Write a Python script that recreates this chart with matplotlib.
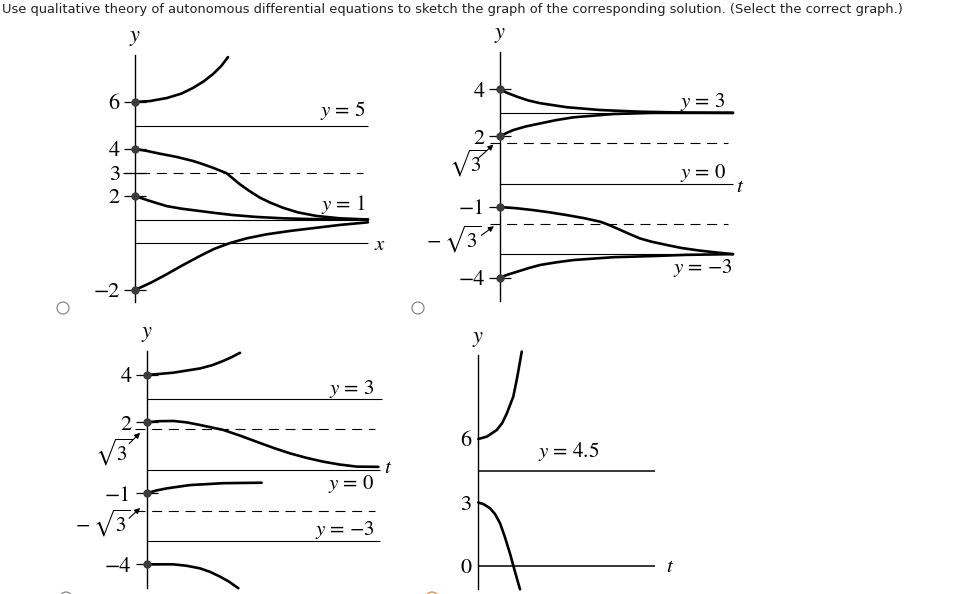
import matplotlib
matplotlib.use("Agg")
import matplotlib.pyplot as plt
from matplotlib.patches import Circle

# ─── Page text ────────────────────────────────────────────────────────────────
QUESTION = ("Use qualitative theory of autonomous differential equations to sketch "
            "the graph of the corresponding solution. (Select the correct graph.)")

# ─── Panel 1 (top left) ───────────────────────────────────────────────────────
P1_TICKS = [6, 4, 3, 2, -2]
P1_TICK_LABELS = ["6", "4", "3", "2", "\u22122"]
P1_SOLID = [5, 1]
P1_SOLID_LABELS = ["$y$ = 5", "$y$ = 1"]
P1_DASHED = [3]
P1_STARTS = [6, 4, 2, -2]

p1_c6_t = [0, 0.64, 1.37, 2.0, 2.49, 2.95, 3.35, 3.7, 3.99]
p1_c6_y = [6, 6.04, 6.17, 6.36, 6.6, 6.88, 7.19, 7.53, 7.91]
p1_c4_t = [0, 0.5, 1.07, 1.8, 2.49, 2.9, 3.35, 3.93, 4.5, 4.9, 5.36, 5.8, 6.35, 7.0, 7.8, 8.8, 10.0]
p1_c4_y = [4, 3.92, 3.8, 3.66, 3.49, 3.36, 3.2, 2.97, 2.5, 2.22, 1.93, 1.72, 1.5, 1.3, 1.15, 1.05, 1.0]
p1_c2_t = [0, 0.6, 1.36, 2.0, 2.79, 3.5, 4.2, 5.2, 6.35, 7.5, 8.5, 10.0]
p1_c2_y = [2, 1.8, 1.57, 1.46, 1.36, 1.27, 1.19, 1.11, 1.05, 1.02, 1.0, 1.0]
p1_cm2_t = [0, 0.7, 1.36, 2.0, 2.79, 3.4, 4.08, 4.8, 5.65, 6.7, 7.8, 8.8, 10.0]
p1_cm2_y = [-2, -1.68, -1.33, -0.97, -0.55, -0.25, 0.0, 0.2, 0.37, 0.52, 0.65, 0.77, 0.88]

# ─── Panel 2 (top right) ──────────────────────────────────────────────────────
P2_TICKS = [4, 2, -1, -4]
P2_TICK_LABELS = ["4", "2", "\u22121", "\u22124"]
P2_SOLID = [3, 0, -3]
P2_SOLID_LABELS = ["$y$ = 3", "$y$ = 0", "$y$ = \u22123"]
P2_DASHED = [1.732, -1.732]
P2_STARTS = [4, 2, -1, -4]

p2_c4_t = [0, 0.3, 0.72, 1.2, 1.72, 2.86, 4.29, 6.0, 8.0, 10]
p2_c4_y = [4, 3.85, 3.69, 3.53, 3.41, 3.24, 3.12, 3.05, 3.01, 3.0]
p2_c2_t = [0, 0.25, 0.57, 1.1, 1.72, 2.4, 3.15, 4.86, 6.58, 8.0, 10]
p2_c2_y = [2, 2.13, 2.27, 2.42, 2.55, 2.69, 2.81, 2.95, 3.0, 3.0, 3.0]
p2_cm1_t = [0, 0.7, 1.43, 2.1, 2.86, 3.6, 4.29, 4.6, 5.0, 5.5, 6.0, 6.5, 7.15, 7.8, 8.58, 9.3, 10]
p2_cm1_y = [-1, -1.05, -1.13, -1.22, -1.34, -1.47, -1.62, -1.73, -1.9, -2.12, -2.33, -2.47, -2.61, -2.74, -2.85, -2.93, -3.0]
p2_cm4_t = [0, 0.3, 0.72, 1.2, 1.72, 2.4, 3.15, 4.86, 6.58, 8.0, 10]
p2_cm4_y = [-4, -3.88, -3.75, -3.6, -3.46, -3.35, -3.25, -3.13, -3.08, -3.03, -3.0]

# ─── Panel 3 (bottom left) ────────────────────────────────────────────────────
P3_TICKS = [4, 2, -1, -4]
P3_TICK_LABELS = ["4", "2", "\u22121", "\u22124"]
P3_SOLID = [3, 0, -3]
P3_SOLID_LABELS = ["$y$ = 3", "$y$ = 0", "$y$ = \u22123"]
P3_DASHED = [1.732, -1.732]
P3_STARTS = [4, 2, -1, -4]

p3_c4_t = [0, 1.13, 2.27, 2.8, 3.26, 3.6, 3.97]
p3_c4_y = [4.0, 4.1, 4.28, 4.42, 4.6, 4.75, 4.94]
p3_c2_t = [0, 0.5, 1.13, 1.7, 2.27, 3.26, 4.0, 4.68, 5.4, 6.1, 6.8, 7.51, 8.2, 8.94, 9.86]
p3_c2_y = [2.0, 2.05, 2.06, 2.0, 1.89, 1.68, 1.43, 1.18, 0.92, 0.69, 0.5, 0.34, 0.22, 0.13, 0.12]
p3_cm1_t = [0, 0.4, 0.85, 1.84, 3.26, 4.89]
p3_cm1_y = [-1.0, -0.88, -0.79, -0.65, -0.57, -0.55]
p3_cm4_t = [0, 1.13, 1.7, 2.27, 2.7, 3.12, 3.5, 3.9]
p3_cm4_y = [-4, -4, -4.06, -4.17, -4.32, -4.52, -4.73, -5.01]

# ─── Panel 4 (bottom right) ───────────────────────────────────────────────────
P4_TICKS = [6, 3, 0]
P4_TICK_LABELS = ["6", "3", "0"]
P4_SOLID = [4.5, 0]
P4_SOLID_LABELS = ["$y$ = 4.5"]

p4_c6_t = [0, 0.48, 1.04, 1.35, 1.61, 1.98, 2.2, 2.46]
p4_c6_y = [6, 6.11, 6.42, 6.75, 7.2, 8.0, 8.9, 10.13]
p4_c3_t = [0, 0.3, 0.66, 0.95, 1.23, 1.5, 1.79, 2.07, 2.36]
p4_c3_y = [3, 2.92, 2.73, 2.45, 2.02, 1.38, 0.6, -0.25, -1.1]

# ─── Style ────────────────────────────────────────────────────────────────────
W, H = 970, 594
SERIF = "STIXGeneral"
plt.rcParams["mathtext.fontset"] = "stix"
plt.rcParams["font.family"] = SERIF
TICK_FS = 16
LBL_FS = 15
ROOT_FS = 15
CURVE_LW = 1.9
LINE_LW = 0.8
DASH = (0, (9, 6))
DOT = "#3c3c3c"
ARROW = dict(arrowstyle="-|>", lw=0.8, color="black", mutation_scale=8,
             shrinkA=0, shrinkB=0)

fig = plt.figure(figsize=(W / 100, H / 100), dpi=100)
fig.patch.set_facecolor("white")


def place(ax, x0, y0, sx, sy, xlim, ylim):
    """Put the data origin of ax at pixel (x0, y0) with sx, sy px per unit."""
    left = x0 + sx * xlim[0]
    right = x0 + sx * xlim[1]
    top = y0 - sy * ylim[1]
    bot = y0 - sy * ylim[0]
    ax.set_position([left / W, 1 - bot / H, (right - left) / W, (bot - top) / H])
    ax.set_xlim(xlim)
    ax.set_ylim(ylim)
    ax.patch.set_alpha(0)


def sketch_axes(ax, ybounds, ticks, tick_labels, tick_len=16):
    for s in ("top", "right", "bottom"):
        ax.spines[s].set_visible(False)
    ax.spines["left"].set_position(("data", 0))
    ax.spines["left"].set_bounds(*ybounds)
    ax.spines["left"].set_linewidth(1.0)
    ax.set_xticks([])
    ax.set_yticks(ticks)
    ax.set_yticklabels(tick_labels, fontsize=TICK_FS)
    ax.tick_params(axis="y", direction="inout", length=tick_len, width=0.9, pad=3)
    ax.text(0, ybounds[1] + 0.3, r"$y$", fontsize=TICK_FS, ha="center", va="bottom")


def curve(ax, t, y):
    ax.plot(t, y, color="black", lw=CURVE_LW, solid_capstyle="round", clip_on=False)


def dots(ax, ys):
    ax.plot([0] * len(ys), ys, "o", color=DOT, ms=5, zorder=5, clip_on=False)


# ─── Panel 1 ──────────────────────────────────────────────────────────────────
ax1 = fig.add_axes([0, 0, 1, 1])
place(ax1, 135, 243, 23.3, 23.5, (-3, 12), (-3, 9.5))
sketch_axes(ax1, (-2.5, 8.0), P1_TICKS, P1_TICK_LABELS)
ax1.hlines(P1_SOLID + [0], 0, 10, color="black", lw=LINE_LW)
ax1.hlines(P1_DASHED, -0.5, 9.8, color="black", lw=LINE_LW, linestyles=[DASH])
for yv, lab in zip(P1_SOLID, P1_SOLID_LABELS):
    ax1.text(8.93, yv + 0.62, lab, fontsize=LBL_FS, ha="center", va="center")
ax1.text(10.25, -0.1, r"$x$", fontsize=LBL_FS, ha="left", va="center")
curve(ax1, p1_c6_t, p1_c6_y)
curve(ax1, p1_c4_t, p1_c4_y)
curve(ax1, p1_c2_t, p1_c2_y)
curve(ax1, p1_cm2_t, p1_cm2_y)
dots(ax1, P1_STARTS)

# ─── Panel 2 ──────────────────────────────────────────────────────────────────
ax2 = fig.add_axes([0, 0, 1, 1])
place(ax2, 500, 183.5, 23.3, 23.55, (-3, 12), (-5.5, 6.8))
sketch_axes(ax2, (-5.0, 5.6), P2_TICKS, P2_TICK_LABELS)
ax2.hlines(P2_SOLID, 0, 10, color="black", lw=LINE_LW)
ax2.hlines(P2_DASHED, -0.43, 9.79, color="black", lw=LINE_LW, linestyles=[DASH])
for yv, lab in zip(P2_SOLID, P2_SOLID_LABELS):
    off = -0.6 if yv < 0 else 0.45
    ax2.text(8.7, yv + off, lab, fontsize=LBL_FS, ha="center", va="center")
ax2.text(10.15, -0.15, r"$t$", fontsize=LBL_FS, ha="left", va="center")
ax2.annotate("", xy=(-0.28, P2_DASHED[0] - 0.08), xytext=(-0.9, 1.1), arrowprops=ARROW)
ax2.text(-1.4, 0.85, r"$\sqrt{3}$", fontsize=ROOT_FS, ha="center", va="center")
ax2.annotate("", xy=(-0.26, P2_DASHED[1] - 0.08), xytext=(-0.8, -2.2), arrowprops=ARROW)
ax2.text(-2.0, -2.38, r"$-\;\sqrt{3}$", fontsize=ROOT_FS, ha="center", va="center")
curve(ax2, p2_c4_t, p2_c4_y)
curve(ax2, p2_c2_t, p2_c2_y)
curve(ax2, p2_cm1_t, p2_cm1_y)
curve(ax2, p2_cm4_t, p2_cm4_y)
dots(ax2, P2_STARTS)

# ─── Panel 3 ──────────────────────────────────────────────────────────────────
ax3 = fig.add_axes([0, 0, 1, 1])
place(ax3, 146.7, 469.7, 23.5, 23.66, (-3, 12), (-5.6, 6.5))
sketch_axes(ax3, (-5.0, 5.0), P3_TICKS, P3_TICK_LABELS)
ax3.hlines(P3_SOLID, 0, [10.0, 9.93, 9.93], color="black", lw=LINE_LW)
ax3.hlines(P3_DASHED, -0.5, 9.71, color="black", lw=LINE_LW, linestyles=[DASH])
ax3.text(8.72, 3.4, P3_SOLID_LABELS[0], fontsize=LBL_FS, ha="center", va="center")
ax3.text(8.72, -0.6, P3_SOLID_LABELS[1], fontsize=LBL_FS, ha="center", va="center")
ax3.text(8.44, -2.55, P3_SOLID_LABELS[2], fontsize=LBL_FS, ha="center", va="center")
ax3.text(10.1, 0.07, r"$t$", fontsize=LBL_FS, ha="left", va="center")
ax3.annotate("", xy=(-0.28, 1.56), xytext=(-0.75, 1.1), arrowprops=ARROW)
ax3.text(-1.4, 0.74, r"$\sqrt{3}$", fontsize=ROOT_FS, ha="center", va="center")
ax3.annotate("", xy=(-0.28, -1.62), xytext=(-0.75, -2.05), arrowprops=ARROW)
ax3.text(-1.85, -2.27, r"$-\;\sqrt{3}$", fontsize=ROOT_FS, ha="center", va="center")
curve(ax3, p3_c4_t, p3_c4_y)
curve(ax3, p3_c2_t, p3_c2_y)
curve(ax3, p3_cm1_t, p3_cm1_y)
curve(ax3, p3_cm4_t, p3_cm4_y)
dots(ax3, P3_STARTS)

# ─── Panel 4 ──────────────────────────────────────────────────────────────────
ax4 = fig.add_axes([0, 0, 1, 1])
place(ax4, 478.3, 566, 17.67, 21.17, (-3, 12), (-1.5, 11.2))
sketch_axes(ax4, (-1.1, 9.97), P4_TICKS, P4_TICK_LABELS, tick_len=0)
ax4.tick_params(axis="y", pad=5)
ax4.hlines(P4_SOLID, 0, 10, color="black", lw=1.1)
ax4.text(5.09, 5.4, P4_SOLID_LABELS[0], fontsize=LBL_FS, ha="center", va="center")
ax4.text(10.6, -0.03, r"$t$", fontsize=LBL_FS, ha="left", va="center")
curve(ax4, p4_c6_t, p4_c6_y)
curve(ax4, p4_c3_t, p4_c3_y)

# ─── Page overlay: question text and radio buttons ────────────────────────────
page = fig.add_axes([0, 0, 1, 1], zorder=-1)
page.set_xlim(0, W)
page.set_ylim(H, 0)
page.axis("off")
page.text(2, 10, QUESTION, fontsize=9.4, family="DejaVu Sans", color="#222222",
          ha="left", va="center")
for (cx, cy), ec in zip([(63, 308), (418, 308), (66, 598), (432, 598)],
                        ["#8a8a8a", "#8a8a8a", "#8a8a8a", "#e08a3a"]):
    page.add_patch(Circle((cx, cy), 6, fill=False, ec=ec, lw=0.9))

fig.savefig("out.png", dpi=100)
